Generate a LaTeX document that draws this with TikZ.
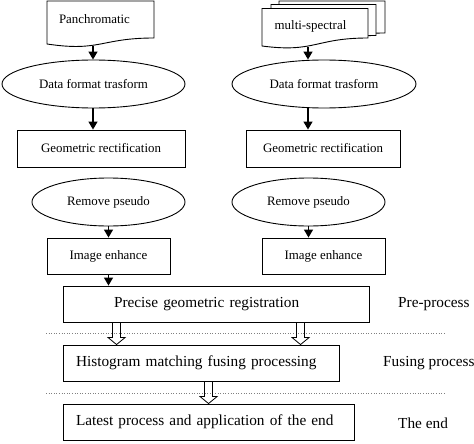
\documentclass[tikz,border=0pt]{standalone}
\usepackage{fontspec}
\setmainfont{Liberation Serif}
\usetikzlibrary{shapes.geometric,arrows.meta,calc}
\begin{document}
\begin{tikzpicture}[x=1pt,y=-1pt,
  small/.style={font=\fontsize{12.9}{14}\selectfont},
  big/.style={font=\fontsize{15.3}{17}\selectfont},
  box/.style={draw, line width=0.9pt, inner sep=0pt, small},
  oval/.style={draw, ellipse, line width=0.9pt, inner sep=0pt, small},
  docshape/.style={draw, line width=0.9pt, fill=white},
  arr/.style={line width=1.3pt, -{Triangle[length=8pt,width=9pt]}},
  hollow/.style={line width=0.8pt, to path={let \p1=(\tikztostart), \p2=(\tikztotarget) in
     (\x1-4pt,\y1) -- (\x1-4pt,\y2+7pt) -- (\x1-8.5pt,\y2+7pt) -- (\x1,\y2) -- (\x1+8.5pt,\y2+7pt) -- (\x1+4pt,\y2+7pt) -- (\x1+4pt,\y1)}},
  sepline/.style={dotted, line width=0.6pt, gray},
  lab/.style={big, inner sep=0pt, anchor=west}]
\useasboundingbox (0,0) rectangle (474,444);
\clip (0,0) rectangle (474,444);

% left document
\draw[docshape] (47,1) -- (154,1) -- (154,38) .. controls (100.5,38) and (100.5,52) .. (47,44) -- cycle;
\node[small] (pantext) at (94.5,19) {Panchromatic};
\coordinate (pan) at (93,46.5);

% right document stack
\draw[docshape] (279,1) -- (385,1) -- (385,33) .. controls (332,33) and (332,46) .. (279,39) -- cycle;
\draw[docshape] (271,4.5) -- (376,4.5) -- (376,35.5) .. controls (323.5,35.5) and (323.5,49) .. (271,42) -- cycle;
\draw[docshape] (262,8.5) -- (368,8.5) -- (368,38) .. controls (315,38) and (315,53) .. (262,46) -- cycle;
\node[small] (mstext) at (310.5,26) {multi-spectral};
\coordinate (ms) at (308,47.5);

% ellipses and boxes
\node[oval, minimum width=183pt, minimum height=48pt] (dfl) at (93.5,84) {Data format trasform};
\node[oval, minimum width=184pt, minimum height=48pt] (dfr) at (324,84) {Data format trasform};
\node[box, minimum width=168pt, minimum height=37pt] (grl) at (101,148.5) {Geometric rectification};
\node[box, minimum width=154pt, minimum height=37pt] (grr) at (323,148.5) {Geometric rectification};
\node[oval, minimum width=153pt, minimum height=48pt] (rpl) at (108.5,202) {Remove pseudo};
\node[oval, minimum width=153pt, minimum height=48pt] (rpr) at (308.5,202) {Remove pseudo};
\node[box, minimum width=123pt, minimum height=36pt] (iel) at (108.5,256) {Image enhance};
\node[box, minimum width=123pt, minimum height=36pt] (ier) at (323.5,256) {Image enhance};

\node[box, big, text width=204pt, align=left, inner xsep=51pt, minimum height=36pt] (prec) at (216,304) {Precise geometric registration};
\node[box, big, text width=250pt, align=left, inner xsep=13pt, minimum height=36pt] (hist) at (201,363) {Histogram matching fusing processing};
\node[box, big, text width=265pt, align=left, inner xsep=13pt, minimum height=36pt] (last) at (208.5,422) {Latest process and application of the end};

\node[lab] (l1) at (398,304) {Pre-process};
\node[lab] (l2) at (383,363) {Fusing process};
\node[lab] (l3) at (398,423) {The end};

% dotted separators
\coordinate (s1a) at (46,333); \coordinate (s1b) at (445,333);
\coordinate (s2a) at (46,393); \coordinate (s2b) at (445,393);
\draw[sepline] (s1a) -- (s1b);
\draw[sepline] (s2a) -- (s2b);

% arrows
\draw[arr] (pan) -- (pan |- dfl.north);
\draw[arr] (pan |- dfl.south) -- (pan |- grl.north);
\draw[arr] (rpl.south) -- (iel.north);
\draw[arr] (iel.south) -- (iel.south |- prec.north);
\draw[arr] (ms) -- (ms |- dfr.north);
\draw[arr] (ms |- dfr.south) -- (ms |- grr.north);
\draw[arr] (rpr.south) -- (rpr.south |- ier.north);

% hollow arrows
\draw[hollow] ($(prec.south west)+(54,0)$) to ($(hist.north west)+(54,0)$);
\draw[hollow] ($(prec.south west)+(238,0)$) to ($(hist.north west)+(238,0)$);
\draw[hollow] ($(hist.south west)+(146,0)$) to ($(last.north west)+(146,0)$);
\end{tikzpicture}
\end{document}
